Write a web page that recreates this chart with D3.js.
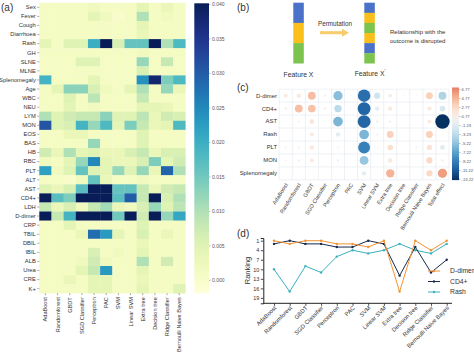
<!DOCTYPE html>
<html>
<head>
<meta charset="utf-8">
<script src="https://cdn.jsdelivr.net/npm/d3@7"></script>
<style>
  body { margin: 0; background: #fff; }
  svg { font-family: "Liberation Sans", Arial, sans-serif; }
</style>
</head>
<body>
<div id="chart-area"></div>
<script>
var width = 474,
    height = 352;

// ---- data ----
var models = ["AdaBoost", "Randomforest", "GBDT", "SGD Classifier", "Perceptron", "PAC", "SVM",
  "Linear SVM", "Extra tree", "Decision tree", "Ridge Classifier", "Bernoulli Naive Bayes"];

var features = ["Sex", "Fever", "Cough", "Diarrhoea", "Rash", "GH", "SLNE", "MLNE", "Splenomegaly",
  "Age", "WBC", "NEU", "LYM", "MON", "EOS", "BAS", "HB", "RBC", "PLT", "ALT", "AST", "CD4+", "LDH",
  "D-dimer", "CRP", "TBIL", "DBIL", "IBIL", "ALB", "Urea", "CRE", "K+"];

var heatValues = [
  [.001,.001,.001,.001,.002,.001,.001,.001,.004,.001,.003,.001],
  [.001,.001,.001,.001,.004,.002,.000,.001,.010,.001,.002,.001],
  [.001,.001,.001,.001,.001,.001,.001,.001,.004,.001,.001,.001],
  [.001,.001,.001,.001,.001,.001,.001,.001,.003,.001,.001,.001],
  [.004,.001,.005,.005,.020,.040,.006,.016,.016,.040,.010,.018],
  [.001,.001,.001,.001,.001,.001,.001,.001,.002,.001,.001,.001],
  [.001,.001,.001,.005,.005,.001,.001,.001,.012,.001,.008,.001],
  [.001,.001,.001,.001,.001,.001,.001,.001,.006,.001,.001,.001],
  [.019,.001,.001,.001,.004,.001,.001,.001,.024,.038,.014,.018],
  [.001,.004,.013,.013,.006,.002,.001,.004,.010,.001,.012,.003],
  [.001,.001,.005,.001,.009,.001,.001,.001,.008,.001,.001,.001],
  [.001,.001,.004,.001,.002,.001,.001,.001,.004,.004,.003,.001],
  [.010,.005,.007,.008,.008,.013,.005,.005,.009,.003,.007,.006],
  [.031,.005,.006,.019,.012,.018,.004,.014,.008,.003,.004,.018],
  [.001,.001,.003,.003,.001,.001,.001,.001,.005,.001,.001,.001],
  [.001,.001,.001,.001,.012,.001,.001,.001,.005,.001,.001,.001],
  [.007,.003,.010,.004,.005,.003,.003,.006,.008,.003,.006,.006],
  [.002,.001,.004,.012,.025,.004,.003,.003,.006,.014,.004,.007],
  [.022,.002,.005,.016,.005,.004,.012,.005,.012,.003,.029,.010],
  [.001,.001,.000,.002,.016,.003,.001,.001,.002,.001,.001,.001],
  [.005,.003,.006,.017,.040,.040,.016,.016,.008,.003,.007,.008],
  [.040,.017,.014,.040,.040,.040,.017,.030,.008,.040,.006,.010],
  [.008,.003,.006,.002,.008,.011,.003,.002,.006,.012,.005,.009],
  [.040,.008,.019,.040,.040,.040,.015,.040,.007,.040,.012,.021],
  [.001,.001,.004,.001,.001,.001,.001,.001,.005,.001,.001,.001],
  [.001,.001,.001,.003,.028,.023,.004,.001,.006,.001,.003,.001],
  [.001,.001,.001,.001,.001,.001,.001,.001,.003,.001,.001,.001],
  [.001,.001,.001,.001,.006,.001,.002,.001,.004,.001,.001,.001],
  [.001,.001,.001,.002,.007,.002,.001,.001,.010,.001,.007,.001],
  [.001,.001,.001,.004,.008,.023,.001,.001,.004,.001,.001,.001],
  [.001,.001,.003,.001,.004,.004,.001,.001,.003,.001,.001,.001],
  [.001,.001,.001,.001,.004,.004,.001,.001,.004,.001,.001,.005]
];
var heatTicks = [0.000, 0.005, 0.010, 0.015, 0.020, 0.025, 0.030, 0.035, 0.040];

// panel b
var featureX = ["blue", "yellow", "green"];
var featureXPerm = ["blue", "yellow", "green", "yellow", "blue", "green"];
var blockColors = { blue: "#4a72c8", yellow: "#fbbf1c", green: "#7cc44e" };

// panel c
var effFeatures = ["D-dimer", "CD4+", "AST", "Rash", "PLT", "MON", "Splenomegaly"];
var effModels = models.concat(["Total effect"]);
var effValues = [
  [1.0, 1.2, 4.0, 0.3, -5.5, 0.1, -10.0, -2.5, 0.8, 0.1, 0.1, 3.0, -4.0],
  [0.4, 4.0, 3.8, -0.4, -3.5, 0.1, -10.5, -1.2, 1.2, 0.0, 0.0, 1.2, -2.0],
  [0.1, 0.2, 1.5, 0.1, -6.0, 0.1, -10.5, -0.4, 0.3, 0.0, 0.0, 1.0, -13.2],
  [0.0, 0.0, 1.0, 0.0, -1.2, 0.0, -6.0, -0.3, 3.0, 0.0, 0.0, 3.0, 0.1],
  [0.2, 0.2, 1.2, 0.0, 0.2, 0.0, -9.0, 0.1, 2.0, 0.0, -0.3, 1.8, -1.5],
  [0.2, 0.4, 1.0, 0.0, 0.3, 0.0, -5.0, 0.0, 1.3, 0.0, 0.0, 2.5, 0.4],
  [0.0, 0.0, 0.0, 0.0, 0.0, 0.0, -1.2, 0.0, 4.5, 0.0, 0.0, 2.5, 5.5]
];
var effTicks = ["6.77", "4.77", "2.77", "0.77", "-1.23", "-3.23", "-5.22", "-7.22", "-9.22", "-11.22", "-13.22"];

// panel d
var rankDdimer = [1, 2, 1, 1, 2, 2, 3, 1, 17, 1, 4, 1];
var rankCD4 = [2, 1, 2, 2, 3, 3, 1, 2, 12, 3, 11, 7];
var rankRash = [10, 17, 9, 11, 6, 4, 5, 4, 2, 4, 5, 2];
var rankTicks = [1, 4, 7, 10, 13, 16, 19];

var svg = d3.select("#chart-area").append("svg")
    .attr("width", width)
    .attr("height", height);

var textCol = "#333";

// ================= (a) heatmap =================
var hx = d3.scaleBand().domain(models).range([39.3, 185.3]);
var hy = d3.scaleBand().domain(features).range([2.8, 293.2]);
var heatColor = d3.scaleSequential(d3.interpolateYlGnBu).domain([-0.002, 0.040]).clamp(true);

var cells = [];
heatValues.forEach(function(row, i) {
  row.forEach(function(v, j) {
    cells.push({ f: features[i], m: models[j], v: v });
  });
});

svg.append("g").selectAll("rect")
  .data(cells)
  .enter()
  .append("rect")
  .attr("x", d => hx(d.m))
  .attr("y", d => hy(d.f))
  .attr("width", hx.bandwidth() + 0.3)
  .attr("height", hy.bandwidth() + 0.3)
  .attr("fill", d => heatColor(d.v));

var hyAxis = svg.append("g")
  .attr("transform", "translate(39.3,0)")
  .call(d3.axisLeft(hy).tickSize(2).tickPadding(1.5));
hyAxis.select(".domain").remove();
hyAxis.selectAll("line").attr("stroke", "#555").attr("stroke-width", 0.5);
hyAxis.selectAll("text").attr("font-size", 5.8).attr("fill", textCol).attr("font-family", null);

var hxAxis = svg.append("g")
  .attr("transform", "translate(0,293.2)")
  .call(d3.axisBottom(hx).tickSize(2).tickPadding(1.5));
hxAxis.select(".domain").remove();
hxAxis.selectAll("line").attr("stroke", "#555").attr("stroke-width", 0.5);
hxAxis.selectAll("text")
  .attr("font-size", 5.6).attr("fill", textCol).attr("font-family", null)
  .attr("transform", "rotate(-90)")
  .attr("text-anchor", "end")
  .attr("x", -4).attr("y", 0).attr("dy", "0.35em");

// colorbar
var defs = svg.append("defs");
var g1 = defs.append("linearGradient").attr("id", "gradA")
  .attr("x1", 0).attr("y1", 1).attr("x2", 0).attr("y2", 0);
d3.range(0, 1.0001, 0.05).forEach(function(t) {
  g1.append("stop").attr("offset", t).attr("stop-color", heatColor(-0.0019 + t * 0.042));
});
svg.append("rect").attr("x", 194.3).attr("y", 3.3).attr("width", 14.7).attr("height", 289.7)
  .attr("fill", "url(#gradA)");
var cbA = d3.scaleLinear().domain([-0.0019, 0.0401]).range([293, 3.3]);
var cbAxis = svg.append("g")
  .attr("transform", "translate(209,0)")
  .call(d3.axisRight(cbA).tickValues(heatTicks).tickFormat(d3.format(".3f")).tickSize(1.5).tickPadding(1.5));
cbAxis.select(".domain").remove();
cbAxis.selectAll("line").attr("stroke", "#777").attr("stroke-width", 0.5);
cbAxis.selectAll("text").attr("font-size", 5).attr("fill", "#555").attr("font-family", null);

svg.append("text").attr("x", 1).attr("y", 10.5).attr("font-size", 10).attr("fill", textCol).text("(a)");

// ================= (b) permutation =================
svg.append("text").attr("x", 237).attr("y", 11).attr("font-size", 10).attr("fill", textCol).text("(b)");

var bY1 = d3.scaleBand().domain(d3.range(featureX.length)).range([2.7, 63.3]);
svg.append("g").selectAll("rect")
  .data(featureX)
  .enter()
  .append("rect")
  .attr("x", 293.3).attr("width", 10.5)
  .attr("y", (d, i) => bY1(i))
  .attr("height", bY1.bandwidth() + 0.2)
  .attr("fill", d => blockColors[d]);

var bY2 = d3.scaleBand().domain(d3.range(featureXPerm.length)).range([2.7, 63.3]);
svg.append("g").selectAll("rect")
  .data(featureXPerm)
  .enter()
  .append("rect")
  .attr("x", 364.3).attr("width", 10.5)
  .attr("y", (d, i) => bY2(i))
  .attr("height", bY2.bandwidth() + 0.2)
  .attr("fill", d => blockColors[d]);

svg.append("text").attr("x", 298.5).attr("y", 76.5).attr("text-anchor", "middle")
  .attr("font-size", 6.8).attr("fill", textCol).text("Feature X");
var fxp = svg.append("text").attr("x", 370).attr("y", 76).attr("text-anchor", "middle")
  .attr("font-size", 6.8).attr("fill", textCol).text("Feature X");
fxp.append("tspan").attr("dy", -3).attr("font-size", 4.5).text("'");

svg.append("text").attr("x", 335).attr("y", 25.5).attr("text-anchor", "middle")
  .attr("font-size", 6.3).attr("fill", textCol).text("Permutation");
svg.append("line").attr("x1", 320).attr("x2", 343).attr("y1", 32.7).attr("y2", 32.7)
  .attr("stroke", "#f8cb6c").attr("stroke-width", 3);
svg.append("path").attr("d", "M342,28.7 L349,32.7 L342,36.7 Z").attr("fill", "#f8cb6c");

svg.append("text").attr("x", 390).attr("y", 33.5)
  .attr("font-size", 6).attr("fill", textCol).text("Relationship with the");
svg.append("text").attr("x", 390).attr("y", 42.5)
  .attr("font-size", 6).attr("fill", textCol).text("outcome is disrupted");

// ================= (c) bubble matrix =================
svg.append("text").attr("x", 237).attr("y", 91).attr("font-size", 10).attr("fill", textCol).text("(c)");

var cx = d3.scaleBand().domain(effModels).range([279.2, 449]);
var cy = d3.scaleBand().domain(effFeatures).range([89.2, 179.8]);
var effColor = function(v) { return d3.interpolateRdBu(0.5 - v / 26.44); };
var effR = d3.scaleSqrt().domain([0, 13.22]).range([0, 7.2]);

var gridC = svg.append("g").attr("stroke", "#dde3ea").attr("stroke-width", 0.5);
gridC.selectAll(".v").data(d3.range(effModels.length + 1)).enter().append("line")
  .attr("x1", i => 279.2 + i * cx.step()).attr("x2", i => 279.2 + i * cx.step())
  .attr("y1", 89.2).attr("y2", 179.8);
gridC.selectAll(".h").data(d3.range(effFeatures.length + 1)).enter().append("line")
  .attr("y1", i => 89.2 + i * cy.step()).attr("y2", i => 89.2 + i * cy.step())
  .attr("x1", 279.2).attr("x2", 449);

var bubbles = [];
effValues.forEach(function(row, i) {
  row.forEach(function(v, j) {
    bubbles.push({ f: effFeatures[i], m: effModels[j], v: v });
  });
});
svg.append("g").selectAll("circle")
  .data(bubbles)
  .enter()
  .append("circle")
  .attr("cx", d => cx(d.m) + cx.bandwidth() / 2)
  .attr("cy", d => cy(d.f) + cy.bandwidth() / 2)
  .attr("r", d => effR(Math.abs(d.v)))
  .attr("fill", d => effColor(d.v));

var cyAxis = svg.append("g")
  .attr("transform", "translate(278,0)")
  .call(d3.axisLeft(cy).tickSize(0).tickPadding(1));
cyAxis.select(".domain").remove();
cyAxis.selectAll("text").attr("font-size", 5.9).attr("fill", textCol).attr("font-family", null);

var cxAxis = svg.append("g")
  .attr("transform", "translate(0,181)")
  .call(d3.axisBottom(cx).tickSize(0).tickPadding(0));
cxAxis.select(".domain").remove();
cxAxis.selectAll("text")
  .attr("font-size", 5.5).attr("fill", textCol).attr("font-family", null)
  .attr("transform", "rotate(-58)")
  .attr("text-anchor", "end")
  .attr("x", -2).attr("y", 2).attr("dy", "0.35em");

// colorbar c
var g2 = defs.append("linearGradient").attr("id", "gradC")
  .attr("x1", 0).attr("y1", 1).attr("x2", 0).attr("y2", 0);
d3.range(0, 1.0001, 0.05).forEach(function(t) {
  g2.append("stop").attr("offset", t).attr("stop-color", effColor(-13.22 + t * 19.99));
});
var cbC = d3.scaleLinear().domain([-13.22, 6.77]).range([178.7, 89.3]);
svg.append("rect").attr("x", 452).attr("y", 87.5).attr("width", 7).attr("height", 92.6)
  .attr("fill", "url(#gradC)");
var cbCAxis = svg.append("g")
  .attr("transform", "translate(459,0)")
  .call(d3.axisRight(cbC).tickValues(effTicks.map(Number)).tickFormat((d, i) => effTicks[i]).tickSize(1.5).tickPadding(1));
cbCAxis.select(".domain").remove();
cbCAxis.selectAll("line").attr("stroke", "#777").attr("stroke-width", 0.5);
cbCAxis.selectAll("text").attr("font-size", 4.2).attr("fill", "#555").attr("font-family", null);

// ================= (d) ranking lines =================
svg.append("text").attr("x", 237).attr("y", 237).attr("font-size", 10).attr("fill", textCol).text("(d)");

var dx = d3.scalePoint().domain(models).range([274, 446.7]);
var dy = d3.scaleLinear().domain([0.15, 20.7]).range([238, 303.3]);

var series = [
  { name: "Rash", values: rankRash, color: "#3bb0c0" },
  { name: "CD4+", values: rankCD4, color: "#1a2b4c" },
  { name: "D-dimer", values: rankDdimer, color: "#f39234" }
];

var line = d3.line().x((d, i) => dx(models[i])).y(d => dy(d));

series.forEach(function(s) {
  svg.append("path")
    .datum(s.values)
    .attr("d", line)
    .attr("fill", "none")
    .attr("stroke", s.color)
    .attr("stroke-width", 1);
  svg.append("g").selectAll("circle")
    .data(s.values)
    .enter()
    .append("circle")
    .attr("cx", (d, i) => dx(models[i]))
    .attr("cy", d => dy(d))
    .attr("r", 1.2)
    .attr("fill", s.color);
});

var dyAxis = svg.append("g")
  .attr("transform", "translate(263.3,0)")
  .call(d3.axisLeft(dy).tickValues(rankTicks).tickSize(2.5).tickPadding(1.5));
dyAxis.select(".domain").attr("stroke", "#222").attr("stroke-width", 1);
dyAxis.selectAll("line").attr("stroke", "#222").attr("stroke-width", 0.8);
dyAxis.selectAll("text").attr("font-size", 5.5).attr("fill", textCol).attr("font-family", null);

var dxAxis = svg.append("g")
  .attr("transform", "translate(0,303.3)")
  .call(d3.axisBottom(dx).tickSize(2.5).tickPadding(1));
dxAxis.select(".domain").attr("d", "M263.3,0H452").attr("stroke", "#222").attr("stroke-width", 1);
dxAxis.selectAll("line").attr("stroke", "#222").attr("stroke-width", 0.8);
dxAxis.selectAll("text")
  .attr("font-size", 5.8).attr("fill", textCol).attr("font-family", null)
  .attr("transform", "rotate(-45)")
  .attr("text-anchor", "end")
  .attr("x", -2).attr("y", 3).attr("dy", "0.35em");

svg.append("text")
  .attr("transform", "translate(250,270.5) rotate(-90)")
  .attr("text-anchor", "middle")
  .attr("font-size", 7.5).attr("fill", textCol).text("Ranking");

// legend
var legend = svg.append("g").selectAll("g")
  .data(series.slice().reverse())
  .enter()
  .append("g")
  .attr("transform", (d, i) => "translate(428," + (271 + i * 10.5) + ")");
legend.append("line").attr("x1", 0).attr("x2", 12).attr("stroke", d => d.color).attr("stroke-width", 1);
legend.append("circle").attr("cx", 6).attr("r", 1.2).attr("fill", d => d.color);
legend.append("text").attr("x", 22).attr("dy", "0.35em").attr("font-size", 6.8)
  .attr("fill", textCol).text(d => d.name);
</script>
</body>
</html>
